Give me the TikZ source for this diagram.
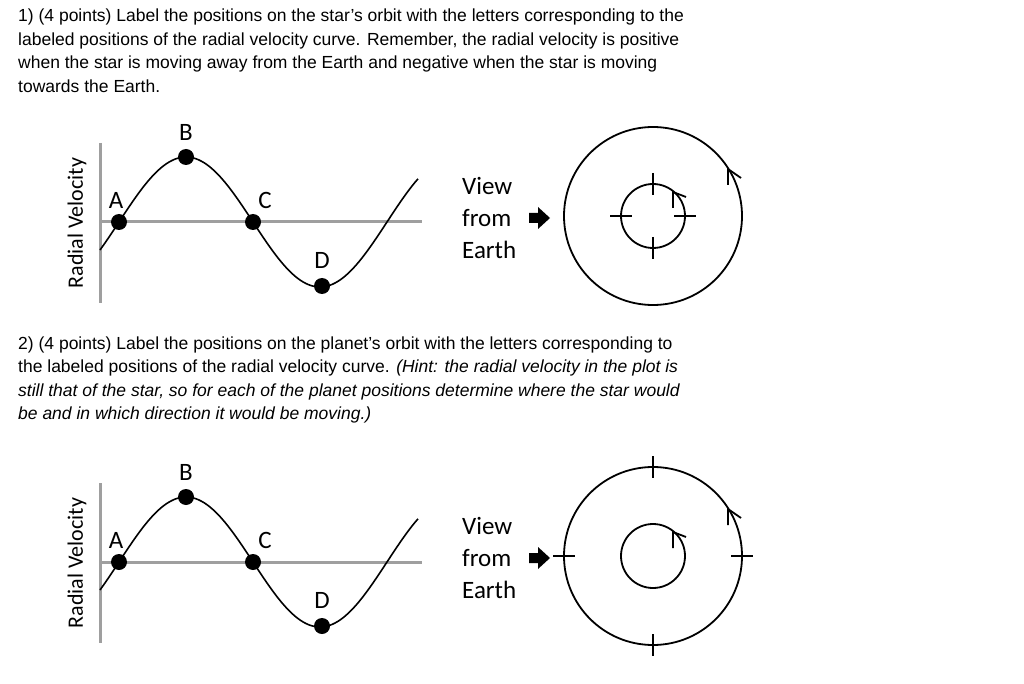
\documentclass[tikz,border=0pt]{standalone}
\usepackage{fontspec}
\setmainfont{Liberation Sans}
\newfontfamily\calfont{Carlito}
\begin{document}
\begin{tikzpicture}[x=1pt,y=-1pt,
  txt/.style={anchor=base west,inner sep=0pt,font=\fontsize{17.5}{20}\selectfont},
  lab/.style={inner sep=0pt,font=\calfont\fontsize{25}{28}\selectfont},
  dot/.style={circle,fill=black,inner sep=0pt,minimum size=16pt},
  axis/.style={gray!75,line width=3pt},
  crv/.style={line width=1.6pt},
  orb/.style={line width=1.8pt}]
\useasboundingbox (0,0) rectangle (1024,684);
\node[txt] (t1) at (18,22) {1) (4 points) Label the positions on the star’s orbit with the letters corresponding to the};
\node[txt] (t2) at (18,46) {labeled positions of the radial velocity curve. Remember, the radial velocity is positive};
\node[txt] (t3) at (18,69) {when the star is moving away from the Earth and negative when the star is moving};
\node[txt] (t4) at (18,93) {towards the Earth.};
\node[txt] (t5) at (18,349) {2) (4 points) Label the positions on the planet’s orbit with the letters corresponding to};
\node[txt] (t6) at (18,372) {the labeled positions of the radial velocity curve. \textit{(Hint: the radial velocity in the plot is}};
\node[txt] (t7) at (18,396) {\textit{still that of the star, so for each of the planet positions determine where the star would}};
\node[txt] (t8) at (18,419) {\textit{be and in which direction it would be moving.)}};
\foreach \s/\k in {0/1,340/2}{
\begin{scope}[shift={(0,\s)}]
\draw[axis] (100,143) -- (100,303);
\draw[axis] (100,222) -- (422,222);
\node[lab,rotate=90,font=\calfont\fontsize{22}{24}\selectfont] (rv\k) at (77,223) {Radial Velocity};
\draw[crv] plot[domain=100:418,samples=120] (\x,{222-65*sin(1.3433*(\x-119))});
\node[dot] (A\k) at (119,222) {};
\node[dot] (B\k) at (186,157) {};
\node[dot] (C\k) at (253,222) {};
\node[dot] (D\k) at (322,286) {};
\node[lab] (la\k) at (116,200) {A};
\node[lab] (lb\k) at (186,132) {B};
\node[lab] (lc\k) at (265,200) {C};
\node[lab] (ld\k) at (322,260) {D};
\node[lab,anchor=west] (v\k) at (462,186) {View};
\node[lab,anchor=west] (f\k) at (462,218) {from};
\node[lab,anchor=west] (e\k) at (462,250) {Earth};
\fill (529,213)--(538,213)--(538,207)--(550,218)--(538,229)--(538,223)--(529,223)--cycle;
\node[circle,draw,orb,minimum size=178pt,inner sep=0pt] (big\k) at (653,216) {};
\node[circle,draw,orb,minimum size=64pt,inner sep=0pt] (sm\k) at (653,216) {};
\draw[orb] (728,185)--(728,169)--(741,178);
\draw[orb] (673,208)--(673,192)--(686,197);
\end{scope}}
\draw[orb] (653,173)--(653,195) (653,237)--(653,259) (610,216)--(632,216) (674,216)--(696,216);
\draw[orb] (653,456)--(653,478) (653,634)--(653,656) (553,556)--(575,556) (731,556)--(753,556);
\end{tikzpicture}
\end{document}
